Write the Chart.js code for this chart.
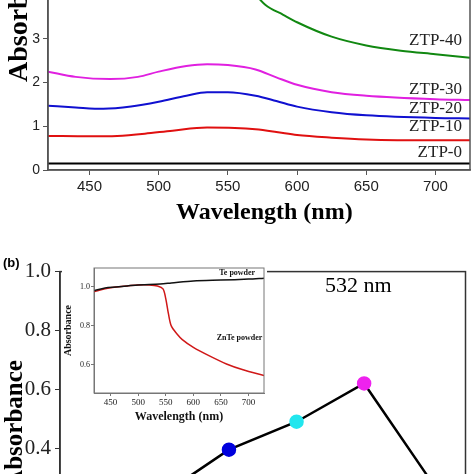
<!DOCTYPE html>
<html><head><meta charset="utf-8">
<script src="https://cdn.jsdelivr.net/npm/chart.js@4"></script>
<style>
body{margin:0;width:474px;height:474px;overflow:hidden;background:#fff;position:relative;font-family:"Liberation Serif",serif}
canvas{position:absolute}
.t{position:absolute;white-space:nowrap}
</style></head><body>
<canvas id="top" width="474" height="290" style="left:0;top:-60px"></canvas>
<canvas id="bot" width="474" height="361" style="left:0;top:255px"></canvas>
<canvas id="ins" width="205" height="162" style="left:62px;top:262px;background:#fff"></canvas>
<div class="t" style="left:-52px;top:-4px;transform:rotate(-90deg);font:bold 28px 'Liberation Serif';width:140px;text-align:center">Absorbance</div>
<div class="t" style="left:176px;top:198px;font:bold 24px 'Liberation Serif'">Wavelength (nm)</div>
<div class="t" style="left:3px;top:255px;font:bold 13px 'Liberation Sans'">(b)</div>
<div class="t" style="left:-66px;top:410px;transform:rotate(-90deg);font:bold 25px 'Liberation Serif';width:160px;text-align:center">Absorbance</div>
<div class="t" style="left:325px;top:272px;font:22px 'Liberation Serif'">532 nm</div>
<script>
// ---- top panel data ----
const topNames=['ZTP-0','ZTP-10','ZTP-20','ZTP-30','ZTP-40'];
const topColors=['#000000','#e01010','#1010d0','#e020e0','#118811'];
const topTicks=[450,500,550,600,650,700];
const wl0=[420,725];
const ztp0=[0.15,0.15];
const wl10=[420,450,470,490,510,535,555,570,585,600,625,650,700,725];
const ztp10=[0.78,0.77,0.78,0.83,0.9,0.97,0.96,0.93,0.87,0.8,0.74,0.7,0.68,0.68];
const wl20=[420,440,460,480,500,520,535,550,570,585,600,625,650,700,725];
const ztp20=[1.47,1.43,1.4,1.45,1.56,1.7,1.78,1.78,1.7,1.58,1.45,1.32,1.25,1.19,1.18];
const wl30=[420,440,465,485,500,520,535,550,570,585,600,625,650,700,725];
const ztp30=[2.25,2.13,2.08,2.13,2.25,2.38,2.42,2.4,2.3,2.12,1.95,1.78,1.7,1.62,1.6];
const wl40=[550,565,577,590,600,625,650,675,700,725];
const ztp40=[4.7,4.2,3.78,3.55,3.38,3.05,2.85,2.73,2.65,2.57];
const topX=[wl0,wl10,wl20,wl30,wl40], topY=[ztp0,ztp10,ztp20,ztp30,ztp40];
const labelY=[0.4,1.0,1.4,1.85,2.95];
// ---- bottom panel data ----
const bCats=['ZTP-0','ZTP-10','ZTP-20','ZTP-25','ZTP-30','ZTP-40'];
const bVals=[0.1,0.24,0.395,0.49,0.62,0.285];
const bColors=['#000000','#ff0000','#0000dd','#22e6ee','#ee22ee','#119911'];
// ---- inset data ----
const insTicksX=[450,500,550,600,650,700];
const insTicksY=[0.6,0.8,1.0];
const teWl=[420,440,460,480,500,520,540,560,600,650,700,728];
const teAbs=[0.98,0.995,1.0,1.005,1.01,1.012,1.015,1.02,1.03,1.035,1.04,1.045];
const znWl=[420,440,460,480,500,520,535,545,550,555,560,570,580,600,630,660,690,728];
const znAbs=[0.975,0.99,1.0,1.005,1.01,1.01,1.005,0.99,0.94,0.86,0.8,0.76,0.73,0.69,0.645,0.605,0.575,0.545];

const frame={id:'frame',afterDraw(c){const a=c.chartArea,x=c.ctx;x.save();x.strokeStyle=c.options.plugins.frame.color;x.lineWidth=c.options.plugins.frame.w;x.strokeRect(a.left,a.top,a.right-a.left,a.bottom-a.top);x.restore();}};
const topLabels={id:'tl',afterDatasetsDraw(c){const x=c.ctx;x.save();x.font='17px "Liberation Serif"';x.fillStyle='#222';x.textAlign='right';x.textBaseline='middle';
 topNames.forEach((n,i)=>x.fillText(n,c.chartArea.right-8,c.scales.y.getPixelForValue(labelY[i])));x.restore();}};
const insLabels={id:'il',afterDatasetsDraw(c){const x=c.ctx;x.save();x.font='bold 8px "Liberation Serif"';x.fillStyle='#111';x.textAlign='right';
 x.fillText('Te powder',c.scales.x.getPixelForValue(712),c.scales.y.getPixelForValue(1.06));
 x.fillText('ZnTe powder',c.scales.x.getPixelForValue(725),c.scales.y.getPixelForValue(0.73));x.restore();}};

new Chart(document.getElementById('top'),{type:'line',
 data:{datasets:topNames.map((n,i)=>({label:n,data:topX[i].map((v,j)=>({x:v,y:topY[i][j]})),borderColor:topColors[i],borderWidth:2,pointRadius:0,tension:0.4,cubicInterpolationMode:'monotone'}))},
 options:{responsive:false,animation:false,layout:{padding:{top:5,right:4,left:0,bottom:0}},
  plugins:{legend:{display:false},tooltip:{enabled:false},frame:{color:'#555',w:1.5}},
  scales:{x:{type:'linear',min:420,max:725,afterFit(s){s.height=60},afterBuildTicks(s){s.ticks=topTicks.map(v=>({value:v}))},ticks:{autoSkip:false,maxRotation:0,font:{family:'Liberation Sans',size:15},color:'#222'},grid:{drawOnChartArea:false,tickLength:5,color:'#555'},border:{color:'#555',width:1.5}},
   y:{min:0,max:5,afterFit(s){s.width=48},ticks:{stepSize:1,font:{family:'Liberation Sans',size:14},color:'#222'},grid:{drawOnChartArea:false,tickLength:5,color:'#555'},border:{color:'#555',width:1.5}}}},
 plugins:[frame,topLabels]});

new Chart(document.getElementById('bot'),{type:'line',
 data:{labels:bCats,datasets:[{data:bVals,borderColor:'#000',borderWidth:2.5,pointRadius:6,pointBackgroundColor:bColors,pointBorderColor:bColors}]},
 options:{responsive:false,animation:false,layout:{padding:{top:8,right:4,left:0,bottom:0}},
  plugins:{legend:{display:false},tooltip:{enabled:false},frame:{color:'#333',w:1.5}},
  scales:{x:{offset:true,afterFit(s){s.height=50},ticks:{font:{family:'Liberation Serif',size:18}},grid:{drawOnChartArea:false,color:'#333'},border:{color:'#333'}},
   y:{min:0,max:1,afterFit(s){s.width=60},ticks:{stepSize:0.2,padding:4,callback:v=>v.toFixed(1),font:{family:'Liberation Serif',size:21},color:'#222'},grid:{drawOnChartArea:false,tickLength:5,color:'#333'},border:{color:'#333',width:1.5}}}},
 plugins:[frame]});

new Chart(document.getElementById('ins'),{type:'line',
 data:{datasets:[{data:teWl.map((v,j)=>({x:v,y:teAbs[j]})),borderColor:'#111',borderWidth:1.5,pointRadius:0,tension:0.3},
  {data:znWl.map((v,j)=>({x:v,y:znAbs[j]})),borderColor:'#d01818',borderWidth:1.5,pointRadius:0,tension:0.3}]},
 options:{responsive:false,animation:false,layout:{padding:{top:6,right:3,left:0,bottom:0}},
  plugins:{legend:{display:false},tooltip:{enabled:false},frame:{color:'#777',w:1}},
  scales:{x:{type:'linear',min:420,max:728,afterFit(s){s.height=31},afterBuildTicks(s){s.ticks=insTicksX.map(v=>({value:v}))},title:{display:true,text:'Wavelength (nm)',font:{family:'Liberation Serif',size:12,weight:'bold'},color:'#111',padding:0},ticks:{autoSkip:false,font:{family:'Liberation Serif',size:9},color:'#222',padding:1,maxRotation:0},grid:{drawOnChartArea:false,tickLength:3,color:'#777'},border:{color:'#777'}},
   y:{min:0.456,max:1.097,afterFit(s){s.width=32},title:{display:true,text:'Absorbance',font:{family:'Liberation Serif',size:10,weight:'bold'},color:'#111',padding:0},afterBuildTicks(s){s.ticks=insTicksY.map(v=>({value:v}))},ticks:{autoSkip:false,callback:v=>v.toFixed(1),font:{family:'Liberation Serif',size:8},color:'#222',padding:1},grid:{drawOnChartArea:false,tickLength:3,color:'#777'},border:{color:'#777'}}}},
 plugins:[frame,insLabels]});
</script></body></html>
